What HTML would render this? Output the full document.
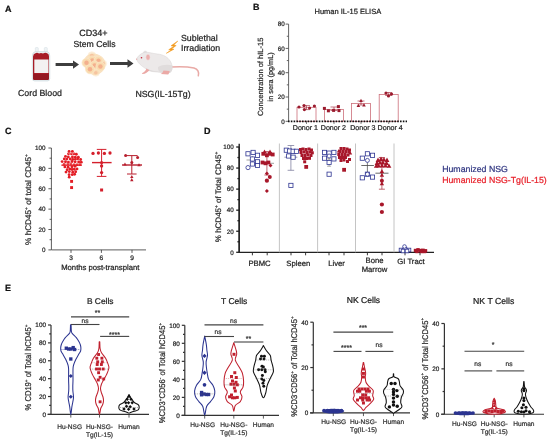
<!DOCTYPE html>
<html><head><meta charset="utf-8"><style>
html,body{margin:0;padding:0;background:#fff;width:550px;height:440px;overflow:hidden}
svg{display:block;font-family:"Liberation Sans", sans-serif;will-change:transform}
text{stroke:currentColor;stroke-width:0.22px;paint-order:stroke;text-rendering:geometricPrecision}
</style></head><body>
<svg width="550" height="440" viewBox="0 0 550 440">
<rect width="550" height="440" fill="#fff"/>
<text x="5.00" y="11.50" font-size="9" text-anchor="start" fill="#111" color="#111" font-weight="bold" >A</text>
<text x="253.00" y="10.00" font-size="9" text-anchor="start" fill="#111" color="#111" font-weight="bold" >B</text>
<text x="5.00" y="134.00" font-size="9" text-anchor="start" fill="#111" color="#111" font-weight="bold" >C</text>
<text x="204.00" y="134.00" font-size="9" text-anchor="start" fill="#111" color="#111" font-weight="bold" >D</text>
<text x="5.00" y="291.00" font-size="9" text-anchor="start" fill="#111" color="#111" font-weight="bold" >E</text>
<g>
<rect x="35.3" y="47.5" width="3" height="6" rx="0.8" fill="#eef3f5" stroke="#d3dde2" stroke-width="0.5"/>
<rect x="44.3" y="47.5" width="3" height="6" rx="0.8" fill="#eef3f5" stroke="#d3dde2" stroke-width="0.5"/>
<path d="M32.3 56 Q32.3 52 35.5 51.5 L47 51.5 Q49.8 52 49.8 56 L49.8 78.5 Q49.8 81 47.3 81 L34.8 81 Q32.3 81 32.3 78.5 Z" fill="#e9f0f2" stroke="#c9d6dc" stroke-width="0.6"/>
<path d="M33 56.5 Q33.5 53.5 35 53.5 Q37 52 39 53.5 Q41 52.5 43 53.5 Q45.5 52 47.5 53.5 Q49 54 49 56.5 L49 78 Q49 80 47 80 L35 80 Q33 80 33 78 Z" fill="#a71d27"/>
<rect x="33" y="74" width="16" height="6" rx="1.5" fill="#951922"/>
<rect x="34.3" y="59.5" width="14.2" height="13.5" fill="#f3f1f1"/>
</g>
<path d="M55.6 63.099999999999994 L73 63.099999999999994 L73 60.39999999999999 L79 64.6 L73 68.8 L73 66.1 L55.6 66.1 Z" fill="#3d3d3d"/>
<path d="M110 62.0 L127.5 62.0 L127.5 59.3 L133.5 63.5 L127.5 67.7 L127.5 65.0 L110 65.0 Z" fill="#3d3d3d"/>
<g>
<path d="M84 63 C84 57 88 53.5 93 53.5 C99 53.5 105.5 58 105.5 64 C105.5 70 100 75 95 75 C89 75 84 69 84 63 Z" fill="#f9e0bf"/>
<circle cx="91.9" cy="55.7" r="4.0" fill="#f9dcb0" stroke="#fbe7c9" stroke-width="0.7" opacity="0.55"/>
<circle cx="91.9" cy="55.7" r="2.0" fill="#f3ab8a" opacity="0.49500000000000005"/>
<circle cx="103.5" cy="63.5" r="3.2" fill="#f9dcb0" stroke="#fbe7c9" stroke-width="0.7" opacity="0.5"/>
<circle cx="103.5" cy="63.5" r="1.6" fill="#f3ab8a" opacity="0.45"/>
<circle cx="95.8" cy="72.7" r="3.6" fill="#f9dcb0" stroke="#fbe7c9" stroke-width="0.7" opacity="0.55"/>
<circle cx="95.8" cy="72.7" r="1.8" fill="#f3ab8a" opacity="0.49500000000000005"/>
<circle cx="92.3" cy="60.4" r="4.5" fill="#f9dcb0" stroke="#fbe7c9" stroke-width="0.7" opacity="1"/>
<circle cx="92.3" cy="60.4" r="2.25" fill="#f3ab8a" opacity="0.9"/>
<circle cx="98.5" cy="60.7" r="4.5" fill="#f9dcb0" stroke="#fbe7c9" stroke-width="0.7" opacity="1"/>
<circle cx="98.5" cy="60.7" r="2.25" fill="#f3ab8a" opacity="0.9"/>
<circle cx="86.5" cy="62.7" r="4.5" fill="#f9dcb0" stroke="#fbe7c9" stroke-width="0.7" opacity="1"/>
<circle cx="86.5" cy="62.7" r="2.25" fill="#f3ab8a" opacity="0.9"/>
<circle cx="94.6" cy="65.4" r="4.5" fill="#f9dcb0" stroke="#fbe7c9" stroke-width="0.7" opacity="1"/>
<circle cx="94.6" cy="65.4" r="2.25" fill="#f3ab8a" opacity="0.9"/>
<circle cx="100.4" cy="66.5" r="4.5" fill="#f9dcb0" stroke="#fbe7c9" stroke-width="0.7" opacity="1"/>
<circle cx="100.4" cy="66.5" r="2.25" fill="#f3ab8a" opacity="0.9"/>
<circle cx="90" cy="69.3" r="4.5" fill="#f9dcb0" stroke="#fbe7c9" stroke-width="0.7" opacity="1"/>
<circle cx="90" cy="69.3" r="2.25" fill="#f3ab8a" opacity="0.9"/>
</g>
<g>
<path d="M171.5 67 C180 66.4 188 66.7 194 68 C198 69.2 199.2 72 198.3 75.8" fill="none" stroke="#e9aaa6" stroke-width="1.5" stroke-linecap="round"/>
<circle cx="145.2" cy="52.6" r="1.7" fill="#e3e0e0" stroke="#d8d4d4" stroke-width="0.3"/>
<path d="M136.5 59.1 C137.5 56.5 140.5 53.5 144 52.5 C148 51.5 152 53.5 157.5 54 C163 54.5 168 57 170.5 61.5 C172.5 65 172.8 69.5 170.5 72.3 C168 73.5 164 73 160 72.3 L152 71.5 C149 71 145 68.5 142 66 C139.5 64.2 137 61.5 136.5 59.1 Z" fill="#ece9e9" stroke="#d5d1d1" stroke-width="0.45"/>
<path d="M158 67 C162 64.5 168 64 172.3 65.5 C172.7 68.5 172.3 70.8 170.5 72.3 C168 73.5 164 73 160 72.3 C158.5 71 157.8 69 158 67 Z" fill="#e0dcdc"/>
<path d="M146 68.3 C154 71.5 150 70 160 72.3 L152 71.5 C149 71 147 70 146 68.3 Z" fill="#dedada"/>
<ellipse cx="148" cy="57.2" rx="2.1" ry="3" fill="#ebb0ae" stroke="#f2e6e6" stroke-width="0.5"/>
<circle cx="141.5" cy="57.8" r="0.8" fill="#c42a3a"/>
<circle cx="136.7" cy="59.2" r="0.6" fill="#e6a0a0"/>
<path d="M146.5 68.5 C145.5 71 144 72.4 141.8 73.2 L142.6 74.1 C145.5 73.8 147.8 71.8 149.5 70.2 Z" fill="#eba9a6"/>
<path d="M163.5 70.5 C163 72.3 161.8 73.4 160.6 74 L168.2 74.4 C169.2 73.3 169.7 72.2 169.6 71 Z" fill="#eba9a6"/>
</g>
<path d="M177.8 41 L171 45.8 L173.8 46.2 L168.7 49.8 L171.2 50.1 L166.3 53.3 L174 49.2 L171.6 48.9 L176.2 45.5 L173.8 45.1 Z" fill="#f39a1e" stroke="#f39a1e" stroke-width="0.5" stroke-linejoin="round"/>
<text x="93.50" y="36.00" font-size="9" text-anchor="middle" fill="#222" color="#222" font-weight="normal" >CD34+</text>
<text x="94.50" y="47.00" font-size="8.7" text-anchor="middle" fill="#222" color="#222" font-weight="normal" >Stem Cells</text>
<text x="40.00" y="96.00" font-size="8.8" text-anchor="middle" fill="#222" color="#222" font-weight="normal" >Cord Blood</text>
<text x="163.00" y="97.00" font-size="8.8" text-anchor="middle" fill="#222" color="#222" font-weight="normal" >NSG(IL-15Tg)</text>
<text x="181.00" y="41.00" font-size="8.8" text-anchor="start" fill="#222" color="#222" font-weight="normal" >Sublethal</text>
<text x="181.00" y="51.00" font-size="8.8" text-anchor="start" fill="#222" color="#222" font-weight="normal" >Irradiation</text>
<line x1="288.60" y1="121.30" x2="288.60" y2="24.10" stroke="#555" stroke-width="0.9" />
<line x1="285.60" y1="121.30" x2="288.60" y2="121.30" stroke="#555" stroke-width="0.9" />
<text x="284.80" y="123.57" font-size="6.3" text-anchor="end" fill="#2a2a2a" color="#2a2a2a" font-weight="normal" >0</text>
<line x1="285.60" y1="97.00" x2="288.60" y2="97.00" stroke="#555" stroke-width="0.9" />
<text x="284.80" y="99.27" font-size="6.3" text-anchor="end" fill="#2a2a2a" color="#2a2a2a" font-weight="normal" >20</text>
<line x1="285.60" y1="72.70" x2="288.60" y2="72.70" stroke="#555" stroke-width="0.9" />
<text x="284.80" y="74.97" font-size="6.3" text-anchor="end" fill="#2a2a2a" color="#2a2a2a" font-weight="normal" >40</text>
<line x1="285.60" y1="48.40" x2="288.60" y2="48.40" stroke="#555" stroke-width="0.9" />
<text x="284.80" y="50.67" font-size="6.3" text-anchor="end" fill="#2a2a2a" color="#2a2a2a" font-weight="normal" >60</text>
<line x1="285.60" y1="24.10" x2="288.60" y2="24.10" stroke="#555" stroke-width="0.9" />
<text x="284.80" y="26.37" font-size="6.3" text-anchor="end" fill="#2a2a2a" color="#2a2a2a" font-weight="normal" >80</text>
<line x1="286.80" y1="109.15" x2="288.60" y2="109.15" stroke="#555" stroke-width="0.9" />
<line x1="286.80" y1="84.85" x2="288.60" y2="84.85" stroke="#555" stroke-width="0.9" />
<line x1="286.80" y1="60.55" x2="288.60" y2="60.55" stroke="#555" stroke-width="0.9" />
<line x1="286.80" y1="36.25" x2="288.60" y2="36.25" stroke="#555" stroke-width="0.9" />
<text x="314.50" y="14.00" font-size="7.5" text-anchor="start" fill="#222" color="#222" font-weight="normal" >Human IL-15 ELISA</text>
<text transform="translate(262.8,76.9) rotate(-90)" font-size="7.5" text-anchor="middle" fill="#2a2a2a" color="#2a2a2a">Concentration of hIL-15</text>
<text transform="translate(272.9,76.9) rotate(-90)" font-size="7.3" text-anchor="middle" fill="#2a2a2a" color="#2a2a2a">in sera (pg/mL)</text>
<rect x="297.0" y="107.33" width="19" height="13.97" fill="#fff" stroke="#cc6f7a" stroke-width="0.8"/>
<line x1="303.00" y1="105.60" x2="310.00" y2="105.60" stroke="#9a1a2c" stroke-width="0.6" />
<line x1="306.50" y1="105.60" x2="306.50" y2="109.60" stroke="#9a1a2c" stroke-width="0.6" />
<line x1="303.00" y1="109.60" x2="310.00" y2="109.60" stroke="#9a1a2c" stroke-width="0.6" />
<circle cx="299" cy="107" r="1.6" fill="#9b1b2e"/>
<circle cx="304" cy="105.6" r="1.6" fill="#9b1b2e"/>
<circle cx="304.4" cy="109.6" r="1.6" fill="#9b1b2e"/>
<circle cx="309.6" cy="108" r="1.6" fill="#9b1b2e"/>
<circle cx="314.4" cy="106" r="1.6" fill="#9b1b2e"/>
<line x1="306.50" y1="121.30" x2="306.50" y2="124.00" stroke="#333" stroke-width="0.6" />
<rect x="324.5" y="109.39" width="19" height="11.91" fill="#fff" stroke="#cc6f7a" stroke-width="0.8"/>
<line x1="330.50" y1="107.00" x2="337.50" y2="107.00" stroke="#9a1a2c" stroke-width="0.6" />
<line x1="334.00" y1="107.00" x2="334.00" y2="110.50" stroke="#9a1a2c" stroke-width="0.6" />
<line x1="330.50" y1="110.50" x2="337.50" y2="110.50" stroke="#9a1a2c" stroke-width="0.6" />
<rect x="322.9" y="106.9" width="3" height="3" fill="#9b1b2e"/>
<rect x="326.9" y="109.3" width="3" height="3" fill="#9b1b2e"/>
<rect x="332.1" y="108.9" width="3" height="3" fill="#9b1b2e"/>
<rect x="336.9" y="105.1" width="3" height="3" fill="#9b1b2e"/>
<rect x="337.5" y="109.1" width="3" height="3" fill="#9b1b2e"/>
<line x1="334.00" y1="121.30" x2="334.00" y2="124.00" stroke="#333" stroke-width="0.6" />
<rect x="351.5" y="103.56" width="19" height="17.74" fill="#fff" stroke="#cc6f7a" stroke-width="0.8"/>
<line x1="357.50" y1="101.00" x2="364.50" y2="101.00" stroke="#9a1a2c" stroke-width="0.6" />
<line x1="361.00" y1="101.00" x2="361.00" y2="105.00" stroke="#9a1a2c" stroke-width="0.6" />
<line x1="357.50" y1="105.00" x2="364.50" y2="105.00" stroke="#9a1a2c" stroke-width="0.6" />
<path d="M359.2 101.9 L362.8 101.9 L361 98.7 Z" fill="#9b1b2e"/>
<path d="M356.59999999999997 107.0 L360.2 107.0 L358.4 103.8 Z" fill="#9b1b2e"/>
<path d="M362.2 106.4 L365.8 106.4 L364 103.2 Z" fill="#9b1b2e"/>
<line x1="361.00" y1="121.30" x2="361.00" y2="124.00" stroke="#333" stroke-width="0.6" />
<rect x="379.2" y="94.57" width="19" height="26.73" fill="#fff" stroke="#cc6f7a" stroke-width="0.8"/>
<line x1="385.20" y1="92.50" x2="392.20" y2="92.50" stroke="#9a1a2c" stroke-width="0.6" />
<line x1="388.70" y1="92.50" x2="388.70" y2="95.50" stroke="#9a1a2c" stroke-width="0.6" />
<line x1="385.20" y1="95.50" x2="392.20" y2="95.50" stroke="#9a1a2c" stroke-width="0.6" />
<circle cx="386" cy="93" r="1.6" fill="#9b1b2e"/>
<circle cx="388.5" cy="96" r="1.6" fill="#9b1b2e"/>
<circle cx="391.5" cy="94" r="1.6" fill="#9b1b2e"/>
<line x1="388.70" y1="121.30" x2="388.70" y2="124.00" stroke="#333" stroke-width="0.6" />
<line x1="288.00" y1="121.30" x2="407.00" y2="121.30" stroke="#111" stroke-width="1.8" stroke-dasharray="1.6,1.2"/>
<text x="305.40" y="130.30" font-size="7.1" text-anchor="middle" fill="#222" color="#222" font-weight="normal" >Donor 1</text>
<text x="333.40" y="130.30" font-size="7.1" text-anchor="middle" fill="#222" color="#222" font-weight="normal" >Donor 2</text>
<text x="362.80" y="130.30" font-size="7.1" text-anchor="middle" fill="#222" color="#222" font-weight="normal" >Donor 3</text>
<text x="390.20" y="130.30" font-size="7.1" text-anchor="middle" fill="#222" color="#222" font-weight="normal" >Donor 4</text>
<line x1="51.40" y1="249.90" x2="51.40" y2="148.00" stroke="#333" stroke-width="0.8" />
<line x1="48.40" y1="249.90" x2="51.40" y2="249.90" stroke="#333" stroke-width="0.8" />
<text x="45.60" y="252.17" font-size="6.3" text-anchor="end" fill="#2a2a2a" color="#2a2a2a" font-weight="normal" >0</text>
<line x1="48.40" y1="229.52" x2="51.40" y2="229.52" stroke="#333" stroke-width="0.8" />
<text x="45.60" y="231.79" font-size="6.3" text-anchor="end" fill="#2a2a2a" color="#2a2a2a" font-weight="normal" >20</text>
<line x1="48.40" y1="209.14" x2="51.40" y2="209.14" stroke="#333" stroke-width="0.8" />
<text x="45.60" y="211.41" font-size="6.3" text-anchor="end" fill="#2a2a2a" color="#2a2a2a" font-weight="normal" >40</text>
<line x1="48.40" y1="188.76" x2="51.40" y2="188.76" stroke="#333" stroke-width="0.8" />
<text x="45.60" y="191.03" font-size="6.3" text-anchor="end" fill="#2a2a2a" color="#2a2a2a" font-weight="normal" >60</text>
<line x1="48.40" y1="168.38" x2="51.40" y2="168.38" stroke="#333" stroke-width="0.8" />
<text x="45.60" y="170.65" font-size="6.3" text-anchor="end" fill="#2a2a2a" color="#2a2a2a" font-weight="normal" >80</text>
<line x1="48.40" y1="148.00" x2="51.40" y2="148.00" stroke="#333" stroke-width="0.8" />
<text x="45.60" y="150.27" font-size="6.3" text-anchor="end" fill="#2a2a2a" color="#2a2a2a" font-weight="normal" >100</text>
<line x1="49.60" y1="239.71" x2="51.40" y2="239.71" stroke="#333" stroke-width="0.8" />
<line x1="49.60" y1="219.33" x2="51.40" y2="219.33" stroke="#333" stroke-width="0.8" />
<line x1="49.60" y1="198.95" x2="51.40" y2="198.95" stroke="#333" stroke-width="0.8" />
<line x1="49.60" y1="178.57" x2="51.40" y2="178.57" stroke="#333" stroke-width="0.8" />
<line x1="49.60" y1="158.19" x2="51.40" y2="158.19" stroke="#333" stroke-width="0.8" />
<line x1="51.60" y1="249.90" x2="146.00" y2="249.90" stroke="#333" stroke-width="0.8" />
<line x1="71.00" y1="249.90" x2="71.00" y2="252.90" stroke="#333" stroke-width="0.8" />
<text x="71.00" y="259.80" font-size="6.6" text-anchor="middle" fill="#222" color="#222" font-weight="normal" >3</text>
<line x1="101.40" y1="249.90" x2="101.40" y2="252.90" stroke="#333" stroke-width="0.8" />
<text x="101.40" y="259.80" font-size="6.6" text-anchor="middle" fill="#222" color="#222" font-weight="normal" >6</text>
<line x1="132.00" y1="249.90" x2="132.00" y2="252.90" stroke="#333" stroke-width="0.8" />
<text x="132.00" y="259.80" font-size="6.6" text-anchor="middle" fill="#222" color="#222" font-weight="normal" >9</text>
<text x="61.20" y="270.00" font-size="7.7" text-anchor="start" fill="#222" color="#222" font-weight="normal" >Months post-transplant</text>
<text transform="translate(30.8,199.5) rotate(-90) scale(1.0,1)" font-size="8.2" text-anchor="middle" fill="#2a2a2a" color="#2a2a2a" letter-spacing="0"><tspan dy="0.00">% hCD45</tspan><tspan font-size="4.92" dy="-3.12">+</tspan><tspan dy="3.12"> of total CD45</tspan><tspan font-size="4.92" dy="-3.12">+</tspan></text>
<circle cx="69.08" cy="151.45" r="1.42" fill="#e31d25"/>
<circle cx="72.37" cy="151.37" r="1.42" fill="#e31d25"/>
<circle cx="68.52" cy="153.86" r="1.42" fill="#e31d25"/>
<circle cx="71.36" cy="153.84" r="1.42" fill="#e31d25"/>
<circle cx="73.98" cy="153.87" r="1.42" fill="#e31d25"/>
<circle cx="76.34" cy="154.22" r="1.42" fill="#e31d25"/>
<circle cx="65.49" cy="156.42" r="1.42" fill="#e31d25"/>
<circle cx="68.31" cy="156.93" r="1.42" fill="#e31d25"/>
<circle cx="72.45" cy="156.88" r="1.42" fill="#e31d25"/>
<circle cx="75.31" cy="157.28" r="1.42" fill="#e31d25"/>
<circle cx="78.38" cy="157.16" r="1.42" fill="#e31d25"/>
<circle cx="64.27" cy="158.94" r="1.42" fill="#e31d25"/>
<circle cx="66.84" cy="159.11" r="1.42" fill="#e31d25"/>
<circle cx="70.28" cy="158.98" r="1.42" fill="#e31d25"/>
<circle cx="72.78" cy="159.44" r="1.42" fill="#e31d25"/>
<circle cx="75.31" cy="159.35" r="1.42" fill="#e31d25"/>
<circle cx="77.74" cy="158.86" r="1.42" fill="#e31d25"/>
<circle cx="80.62" cy="159.48" r="1.42" fill="#e31d25"/>
<circle cx="62.13" cy="161.61" r="1.42" fill="#e31d25"/>
<circle cx="65.50" cy="161.75" r="1.42" fill="#e31d25"/>
<circle cx="68.43" cy="162.09" r="1.42" fill="#e31d25"/>
<circle cx="72.05" cy="161.54" r="1.42" fill="#e31d25"/>
<circle cx="75.14" cy="161.83" r="1.42" fill="#e31d25"/>
<circle cx="78.66" cy="162.03" r="1.42" fill="#e31d25"/>
<circle cx="81.29" cy="162.28" r="1.42" fill="#e31d25"/>
<circle cx="64.10" cy="164.22" r="1.42" fill="#e31d25"/>
<circle cx="67.88" cy="163.95" r="1.42" fill="#e31d25"/>
<circle cx="70.76" cy="163.84" r="1.42" fill="#e31d25"/>
<circle cx="74.08" cy="164.56" r="1.42" fill="#e31d25"/>
<circle cx="77.13" cy="164.68" r="1.42" fill="#e31d25"/>
<circle cx="80.01" cy="164.50" r="1.42" fill="#e31d25"/>
<circle cx="64.86" cy="166.88" r="1.42" fill="#e31d25"/>
<circle cx="68.09" cy="167.14" r="1.42" fill="#e31d25"/>
<circle cx="71.94" cy="166.77" r="1.42" fill="#e31d25"/>
<circle cx="75.03" cy="166.36" r="1.42" fill="#e31d25"/>
<circle cx="67.15" cy="169.79" r="1.42" fill="#e31d25"/>
<circle cx="69.91" cy="169.08" r="1.42" fill="#e31d25"/>
<circle cx="72.06" cy="169.47" r="1.42" fill="#e31d25"/>
<circle cx="74.29" cy="169.26" r="1.42" fill="#e31d25"/>
<circle cx="77.02" cy="168.92" r="1.42" fill="#e31d25"/>
<circle cx="65.99" cy="172.07" r="1.42" fill="#e31d25"/>
<circle cx="69.28" cy="171.55" r="1.42" fill="#e31d25"/>
<circle cx="72.77" cy="172.17" r="1.42" fill="#e31d25"/>
<circle cx="75.68" cy="171.75" r="1.42" fill="#e31d25"/>
<circle cx="69.10" cy="174.68" r="1.42" fill="#e31d25"/>
<circle cx="72.27" cy="174.66" r="1.42" fill="#e31d25"/>
<circle cx="74.63" cy="174.22" r="1.42" fill="#e31d25"/>
<circle cx="69.21" cy="177.18" r="1.42" fill="#e31d25"/>
<rect x="70.15" y="179.95" width="2.90" height="2.90" fill="#e31d25"/>
<rect x="70.15" y="186.15" width="2.90" height="2.90" fill="#e31d25"/>
<line x1="61.40" y1="163.90" x2="81.90" y2="163.90" stroke="#fff" stroke-width="0.6" opacity="0.7"/>
<line x1="61.40" y1="165.20" x2="81.90" y2="165.20" stroke="#e31d25" stroke-width="1.3" />
<line x1="68.00" y1="153.30" x2="74.50" y2="153.30" stroke="#fff" stroke-width="0.5" opacity="0.6"/>
<line x1="92.00" y1="162.60" x2="111.60" y2="162.60" stroke="#d41f2c" stroke-width="1.4" />
<line x1="101.60" y1="149.40" x2="101.60" y2="176.40" stroke="#d41f2c" stroke-width="1.0" />
<line x1="96.80" y1="149.40" x2="106.40" y2="149.40" stroke="#d41f2c" stroke-width="1.0" />
<line x1="96.80" y1="176.40" x2="106.40" y2="176.40" stroke="#d41f2c" stroke-width="1.0" />
<circle cx="93.00" cy="153.40" r="1.65" fill="#d41f2c"/>
<circle cx="98.40" cy="153.00" r="1.65" fill="#d41f2c"/>
<circle cx="104.40" cy="153.40" r="1.65" fill="#d41f2c"/>
<circle cx="110.00" cy="153.00" r="1.65" fill="#d41f2c"/>
<circle cx="101.60" cy="162.60" r="1.65" fill="#d41f2c"/>
<circle cx="101.60" cy="166.00" r="1.65" fill="#d41f2c"/>
<circle cx="101.60" cy="172.60" r="1.65" fill="#d41f2c"/>
<rect x="100.10" y="188.50" width="3.00" height="3.00" fill="#d41f2c"/>
<line x1="122.00" y1="165.00" x2="142.00" y2="165.00" stroke="#b81f2e" stroke-width="1.4" />
<line x1="131.80" y1="155.60" x2="131.80" y2="174.00" stroke="#b81f2e" stroke-width="1.0" />
<line x1="126.00" y1="155.60" x2="137.60" y2="155.60" stroke="#b81f2e" stroke-width="1.0" />
<line x1="127.00" y1="174.00" x2="136.60" y2="174.00" stroke="#b81f2e" stroke-width="1.0" />
<circle cx="125.60" cy="155.40" r="1.5" fill="#b81f2e"/>
<circle cx="137.60" cy="157.40" r="1.5" fill="#b81f2e"/>
<circle cx="131.80" cy="162.40" r="1.5" fill="#b81f2e"/>
<path d="M123.30 165.56 L126.70 165.56 L125.00 162.50 Z" fill="#b81f2e"/>
<path d="M137.30 166.36 L140.70 166.36 L139.00 163.30 Z" fill="#b81f2e"/>
<path d="M130.10 177.96 L133.50 177.96 L131.80 174.90 Z" fill="#b81f2e"/>
<path d="M130.10 181.16 L133.50 181.16 L131.80 178.10 Z" fill="#b81f2e"/>
<line x1="239.20" y1="252.30" x2="239.20" y2="147.00" stroke="#222" stroke-width="1.3" />
<line x1="236.20" y1="252.30" x2="239.20" y2="252.30" stroke="#222" stroke-width="1.3" />
<text x="233.80" y="254.57" font-size="6.3" text-anchor="end" fill="#2a2a2a" color="#2a2a2a" font-weight="normal" >0</text>
<line x1="236.20" y1="231.24" x2="239.20" y2="231.24" stroke="#222" stroke-width="1.3" />
<text x="233.80" y="233.51" font-size="6.3" text-anchor="end" fill="#2a2a2a" color="#2a2a2a" font-weight="normal" >20</text>
<line x1="236.20" y1="210.18" x2="239.20" y2="210.18" stroke="#222" stroke-width="1.3" />
<text x="233.80" y="212.45" font-size="6.3" text-anchor="end" fill="#2a2a2a" color="#2a2a2a" font-weight="normal" >40</text>
<line x1="236.20" y1="189.12" x2="239.20" y2="189.12" stroke="#222" stroke-width="1.3" />
<text x="233.80" y="191.39" font-size="6.3" text-anchor="end" fill="#2a2a2a" color="#2a2a2a" font-weight="normal" >60</text>
<line x1="236.20" y1="168.06" x2="239.20" y2="168.06" stroke="#222" stroke-width="1.3" />
<text x="233.80" y="170.33" font-size="6.3" text-anchor="end" fill="#2a2a2a" color="#2a2a2a" font-weight="normal" >80</text>
<line x1="236.20" y1="147.00" x2="239.20" y2="147.00" stroke="#222" stroke-width="1.3" />
<text x="233.80" y="149.27" font-size="6.3" text-anchor="end" fill="#2a2a2a" color="#2a2a2a" font-weight="normal" >100</text>
<line x1="237.40" y1="241.77" x2="239.20" y2="241.77" stroke="#222" stroke-width="1.3" />
<line x1="237.40" y1="220.71" x2="239.20" y2="220.71" stroke="#222" stroke-width="1.3" />
<line x1="237.40" y1="199.65" x2="239.20" y2="199.65" stroke="#222" stroke-width="1.3" />
<line x1="237.40" y1="178.59" x2="239.20" y2="178.59" stroke="#222" stroke-width="1.3" />
<line x1="237.40" y1="157.53" x2="239.20" y2="157.53" stroke="#222" stroke-width="1.3" />
<line x1="238.50" y1="252.30" x2="434.00" y2="252.30" stroke="#222" stroke-width="1.3" />
<line x1="279.40" y1="143.50" x2="279.40" y2="252.30" stroke="#bdbdbd" stroke-width="0.9" />
<line x1="317.60" y1="143.50" x2="317.60" y2="252.30" stroke="#bdbdbd" stroke-width="0.9" />
<line x1="355.50" y1="143.50" x2="355.50" y2="252.30" stroke="#bdbdbd" stroke-width="0.9" />
<line x1="394.00" y1="143.50" x2="394.00" y2="252.30" stroke="#bdbdbd" stroke-width="0.9" />
<line x1="239.20" y1="143.80" x2="239.20" y2="252.30" stroke="#222" stroke-width="1.4" />
<line x1="252.40" y1="252.30" x2="252.40" y2="255.30" stroke="#222" stroke-width="0.9" />
<line x1="267.20" y1="252.30" x2="267.20" y2="255.30" stroke="#222" stroke-width="0.9" />
<line x1="291.00" y1="252.30" x2="291.00" y2="255.30" stroke="#222" stroke-width="0.9" />
<line x1="305.60" y1="252.30" x2="305.60" y2="255.30" stroke="#222" stroke-width="0.9" />
<line x1="329.00" y1="252.30" x2="329.00" y2="255.30" stroke="#222" stroke-width="0.9" />
<line x1="344.00" y1="252.30" x2="344.00" y2="255.30" stroke="#222" stroke-width="0.9" />
<line x1="367.40" y1="252.30" x2="367.40" y2="255.30" stroke="#222" stroke-width="0.9" />
<line x1="382.00" y1="252.30" x2="382.00" y2="255.30" stroke="#222" stroke-width="0.9" />
<line x1="405.00" y1="252.30" x2="405.00" y2="255.30" stroke="#222" stroke-width="0.9" />
<line x1="420.00" y1="252.30" x2="420.00" y2="255.30" stroke="#222" stroke-width="0.9" />
<text x="259.50" y="265.60" font-size="7.7" text-anchor="middle" fill="#222" color="#222" font-weight="normal" >PBMC</text>
<text x="298.30" y="265.60" font-size="7.7" text-anchor="middle" fill="#222" color="#222" font-weight="normal" >Spleen</text>
<text x="336.50" y="265.60" font-size="7.7" text-anchor="middle" fill="#222" color="#222" font-weight="normal" >Liver</text>
<text x="374.50" y="263.40" font-size="7.7" text-anchor="middle" fill="#222" color="#222" font-weight="normal" >Bone</text>
<text x="374.50" y="272.40" font-size="7.7" text-anchor="middle" fill="#222" color="#222" font-weight="normal" >Marrow</text>
<text x="411.00" y="263.60" font-size="7.7" text-anchor="middle" fill="#222" color="#222" font-weight="normal" >GI Tract</text>
<text transform="translate(221.4,197) rotate(-90) scale(1.0,1)" font-size="8.0" text-anchor="middle" fill="#2a2a2a" color="#2a2a2a" letter-spacing="0"><tspan dy="0.00">% hCD45</tspan><tspan font-size="4.80" dy="-3.04">+</tspan><tspan dy="3.04"> of Total CD45</tspan><tspan font-size="4.80" dy="-3.04">+</tspan></text>
<line x1="246.50" y1="160.00" x2="256.00" y2="160.00" stroke="#8a8a8a" stroke-width="0.8" />
<line x1="252.40" y1="156.00" x2="252.40" y2="165.00" stroke="#8a8a8a" stroke-width="0.7" />
<rect x="245.90" y="151.70" width="4.20" height="4.20" fill="#fff" stroke="#2e3592" stroke-width="0.8"/>
<rect x="251.00" y="150.30" width="4.20" height="4.20" fill="#fff" stroke="#2e3592" stroke-width="0.8"/>
<rect x="255.40" y="153.20" width="4.20" height="4.20" fill="#fff" stroke="#2e3592" stroke-width="0.8"/>
<rect x="250.30" y="156.90" width="4.20" height="4.20" fill="#fff" stroke="#2e3592" stroke-width="0.8"/>
<rect x="255.40" y="159.70" width="4.20" height="4.20" fill="#fff" stroke="#2e3592" stroke-width="0.8"/>
<rect x="250.30" y="161.90" width="4.20" height="4.20" fill="#fff" stroke="#2e3592" stroke-width="0.8"/>
<rect x="255.40" y="163.40" width="4.20" height="4.20" fill="#fff" stroke="#2e3592" stroke-width="0.8"/>
<circle cx="248.00" cy="167.60" r="2.1" fill="#fff" stroke="#2e3592" stroke-width="0.8"/>
<line x1="266.90" y1="151.60" x2="266.90" y2="175.00" stroke="#b0404e" stroke-width="0.8" />
<line x1="264.40" y1="175.00" x2="269.40" y2="175.00" stroke="#b0404e" stroke-width="0.8" />
<line x1="264.40" y1="151.60" x2="269.40" y2="151.60" stroke="#b0404e" stroke-width="0.8" />
<line x1="262.00" y1="163.30" x2="274.00" y2="163.30" stroke="#8a8a8a" stroke-width="0.8" />
<rect x="261.40" y="151.90" width="3.80" height="3.80" fill="#a8172a"/>
<rect x="265.00" y="153.40" width="3.80" height="3.80" fill="#a8172a"/>
<rect x="267.90" y="151.90" width="3.80" height="3.80" fill="#a8172a"/>
<rect x="270.80" y="152.60" width="3.80" height="3.80" fill="#a8172a"/>
<rect x="260.60" y="160.60" width="3.80" height="3.80" fill="#a8172a"/>
<rect x="263.60" y="161.40" width="3.80" height="3.80" fill="#a8172a"/>
<rect x="266.50" y="160.60" width="3.80" height="3.80" fill="#a8172a"/>
<path d="M262.30 153.56 L266.70 153.56 L264.50 149.60 Z" fill="#a8172a"/>
<path d="M267.80 153.56 L272.20 153.56 L270.00 149.60 Z" fill="#a8172a"/>
<path d="M270.50 163.50 L272.50 165.50 L270.50 167.50 L268.50 165.50 Z" fill="#a8172a"/>
<path d="M266.90 171.50 L268.90 173.50 L266.90 175.50 L264.90 173.50 Z" fill="#a8172a"/>
<path d="M266.90 189.00 L268.90 191.00 L266.90 193.00 L264.90 191.00 Z" fill="#a8172a"/>
<circle cx="269.80" cy="177.00" r="2.0" fill="#a8172a"/>
<circle cx="266.90" cy="180.70" r="2.1" fill="#a8172a"/>
<line x1="284.40" y1="157.20" x2="297.40" y2="157.20" stroke="#8080a0" stroke-width="0.8" />
<line x1="290.90" y1="145.50" x2="290.90" y2="170.30" stroke="#8080a0" stroke-width="0.8" />
<line x1="287.60" y1="145.50" x2="294.20" y2="145.50" stroke="#8080a0" stroke-width="0.8" />
<line x1="287.60" y1="170.30" x2="294.20" y2="170.30" stroke="#8080a0" stroke-width="0.8" />
<rect x="284.20" y="148.10" width="4.20" height="4.20" fill="#fff" stroke="#2e3592" stroke-width="0.8"/>
<rect x="287.40" y="148.90" width="4.20" height="4.20" fill="#fff" stroke="#2e3592" stroke-width="0.8"/>
<rect x="291.00" y="149.20" width="4.20" height="4.20" fill="#fff" stroke="#2e3592" stroke-width="0.8"/>
<rect x="294.30" y="149.20" width="4.20" height="4.20" fill="#fff" stroke="#2e3592" stroke-width="0.8"/>
<rect x="286.60" y="153.90" width="4.20" height="4.20" fill="#fff" stroke="#2e3592" stroke-width="0.8"/>
<rect x="291.00" y="155.10" width="4.20" height="4.20" fill="#fff" stroke="#2e3592" stroke-width="0.8"/>
<rect x="288.80" y="183.30" width="4.20" height="4.20" fill="#fff" stroke="#2e3592" stroke-width="0.8"/>
<rect x="299.00" y="148.00" width="3.00" height="3.00" fill="#a8172a"/>
<rect x="301.50" y="147.50" width="3.00" height="3.00" fill="#a8172a"/>
<rect x="304.50" y="148.00" width="3.00" height="3.00" fill="#a8172a"/>
<rect x="307.50" y="147.50" width="3.00" height="3.00" fill="#a8172a"/>
<rect x="310.00" y="148.50" width="3.00" height="3.00" fill="#a8172a"/>
<rect x="299.50" y="151.00" width="3.00" height="3.00" fill="#a8172a"/>
<rect x="302.50" y="150.50" width="3.00" height="3.00" fill="#a8172a"/>
<rect x="305.50" y="151.00" width="3.00" height="3.00" fill="#a8172a"/>
<rect x="308.50" y="150.50" width="3.00" height="3.00" fill="#a8172a"/>
<rect x="310.80" y="151.30" width="3.00" height="3.00" fill="#a8172a"/>
<rect x="300.50" y="154.00" width="3.00" height="3.00" fill="#a8172a"/>
<rect x="303.50" y="154.00" width="3.00" height="3.00" fill="#a8172a"/>
<rect x="306.50" y="153.50" width="3.00" height="3.00" fill="#a8172a"/>
<rect x="309.50" y="154.00" width="3.00" height="3.00" fill="#a8172a"/>
<rect x="302.00" y="157.00" width="3.00" height="3.00" fill="#a8172a"/>
<rect x="305.00" y="157.00" width="3.00" height="3.00" fill="#a8172a"/>
<rect x="308.00" y="156.80" width="3.00" height="3.00" fill="#a8172a"/>
<rect x="303.20" y="160.30" width="3.00" height="3.00" fill="#a8172a"/>
<rect x="304.30" y="165.00" width="3.80" height="3.80" fill="#a8172a"/>
<line x1="326.10" y1="158.90" x2="332.10" y2="158.90" stroke="#8a8a8a" stroke-width="0.8" />
<line x1="327.10" y1="166.20" x2="331.10" y2="166.20" stroke="#8a8a8a" stroke-width="0.7" />
<line x1="329.10" y1="153.00" x2="329.10" y2="166.20" stroke="#8a8a8a" stroke-width="0.7" />
<rect x="322.40" y="150.30" width="4.20" height="4.20" fill="#fff" stroke="#2e3592" stroke-width="0.8"/>
<rect x="327.00" y="151.00" width="4.20" height="4.20" fill="#fff" stroke="#2e3592" stroke-width="0.8"/>
<rect x="331.80" y="150.30" width="4.20" height="4.20" fill="#fff" stroke="#2e3592" stroke-width="0.8"/>
<rect x="322.40" y="156.10" width="4.20" height="4.20" fill="#fff" stroke="#2e3592" stroke-width="0.8"/>
<rect x="331.80" y="156.80" width="4.20" height="4.20" fill="#fff" stroke="#2e3592" stroke-width="0.8"/>
<rect x="327.00" y="160.40" width="4.20" height="4.20" fill="#fff" stroke="#2e3592" stroke-width="0.8"/>
<rect x="327.00" y="172.10" width="4.20" height="4.20" fill="#fff" stroke="#2e3592" stroke-width="0.8"/>
<circle cx="329.10" cy="156.00" r="2.0" fill="#fff" stroke="#2e3592" stroke-width="0.8"/>
<rect x="339.50" y="147.00" width="3.00" height="3.00" fill="#a8172a"/>
<rect x="342.50" y="147.00" width="3.00" height="3.00" fill="#a8172a"/>
<rect x="345.50" y="147.50" width="3.00" height="3.00" fill="#a8172a"/>
<rect x="348.00" y="148.50" width="3.00" height="3.00" fill="#a8172a"/>
<rect x="338.50" y="150.00" width="3.00" height="3.00" fill="#a8172a"/>
<rect x="341.50" y="150.00" width="3.00" height="3.00" fill="#a8172a"/>
<rect x="344.50" y="150.00" width="3.00" height="3.00" fill="#a8172a"/>
<rect x="347.50" y="150.50" width="3.00" height="3.00" fill="#a8172a"/>
<rect x="337.30" y="153.00" width="3.00" height="3.00" fill="#a8172a"/>
<rect x="340.50" y="153.00" width="3.00" height="3.00" fill="#a8172a"/>
<rect x="343.50" y="153.00" width="3.00" height="3.00" fill="#a8172a"/>
<rect x="346.50" y="153.50" width="3.00" height="3.00" fill="#a8172a"/>
<rect x="338.00" y="156.00" width="3.00" height="3.00" fill="#a8172a"/>
<rect x="341.00" y="156.00" width="3.00" height="3.00" fill="#a8172a"/>
<rect x="344.00" y="156.00" width="3.00" height="3.00" fill="#a8172a"/>
<rect x="339.50" y="159.00" width="3.00" height="3.00" fill="#a8172a"/>
<rect x="342.50" y="158.50" width="3.00" height="3.00" fill="#a8172a"/>
<rect x="346.00" y="160.00" width="3.00" height="3.00" fill="#a8172a"/>
<rect x="348.00" y="158.00" width="3.00" height="3.00" fill="#a8172a"/>
<path d="M336.80 152.60 L340.80 152.60 L338.80 149.00 Z" fill="#a8172a"/>
<path d="M348.20 154.60 L352.20 154.60 L350.20 151.00 Z" fill="#a8172a"/>
<rect x="342.20" y="167.90" width="3.80" height="3.80" fill="#a8172a"/>
<line x1="361.30" y1="165.50" x2="373.90" y2="165.50" stroke="#444" stroke-width="0.8" />
<line x1="367.40" y1="160.40" x2="367.40" y2="174.20" stroke="#444" stroke-width="0.7" />
<rect x="360.20" y="156.10" width="4.20" height="4.20" fill="#fff" stroke="#2e3592" stroke-width="0.8"/>
<rect x="365.30" y="151.70" width="4.20" height="4.20" fill="#fff" stroke="#2e3592" stroke-width="0.8"/>
<rect x="370.40" y="153.20" width="4.20" height="4.20" fill="#fff" stroke="#2e3592" stroke-width="0.8"/>
<rect x="360.20" y="175.70" width="4.20" height="4.20" fill="#fff" stroke="#2e3592" stroke-width="0.8"/>
<rect x="365.30" y="172.10" width="4.20" height="4.20" fill="#fff" stroke="#2e3592" stroke-width="0.8"/>
<rect x="370.40" y="175.00" width="4.20" height="4.20" fill="#fff" stroke="#2e3592" stroke-width="0.8"/>
<circle cx="367.40" cy="160.40" r="2.0" fill="#fff" stroke="#2e3592" stroke-width="0.8"/>
<circle cx="367.40" cy="174.20" r="2.0" fill="#fff" stroke="#2e3592" stroke-width="0.8"/>
<line x1="375.40" y1="173.20" x2="388.50" y2="173.20" stroke="#444" stroke-width="0.8" />
<line x1="381.90" y1="157.50" x2="381.90" y2="189.20" stroke="#b0404e" stroke-width="0.8" />
<line x1="378.90" y1="189.20" x2="384.90" y2="189.20" stroke="#b0404e" stroke-width="0.8" />
<line x1="378.90" y1="157.50" x2="384.90" y2="157.50" stroke="#b0404e" stroke-width="0.8" />
<path d="M375.60 161.92 L380.40 161.92 L378.00 157.60 Z" fill="#a8172a"/>
<path d="M378.60 160.92 L383.40 160.92 L381.00 156.60 Z" fill="#a8172a"/>
<path d="M381.60 161.42 L386.40 161.42 L384.00 157.10 Z" fill="#a8172a"/>
<path d="M384.60 161.92 L389.40 161.92 L387.00 157.60 Z" fill="#a8172a"/>
<path d="M374.60 164.92 L379.40 164.92 L377.00 160.60 Z" fill="#a8172a"/>
<path d="M377.60 164.42 L382.40 164.42 L380.00 160.10 Z" fill="#a8172a"/>
<path d="M380.60 164.42 L385.40 164.42 L383.00 160.10 Z" fill="#a8172a"/>
<path d="M384.10 164.92 L388.90 164.92 L386.50 160.60 Z" fill="#a8172a"/>
<path d="M376.10 167.42 L380.90 167.42 L378.50 163.10 Z" fill="#a8172a"/>
<path d="M379.60 167.42 L384.40 167.42 L382.00 163.10 Z" fill="#a8172a"/>
<path d="M383.10 167.42 L387.90 167.42 L385.50 163.10 Z" fill="#a8172a"/>
<path d="M386.60 167.72 L391.40 167.72 L389.00 163.40 Z" fill="#a8172a"/>
<path d="M373.90 167.72 L378.70 167.72 L376.30 163.40 Z" fill="#a8172a"/>
<path d="M379.70 173.06 L384.10 173.06 L381.90 169.10 Z" fill="#a8172a"/>
<path d="M379.70 176.66 L384.10 176.66 L381.90 172.70 Z" fill="#a8172a"/>
<path d="M379.70 185.36 L384.10 185.36 L381.90 181.40 Z" fill="#a8172a"/>
<circle cx="381.90" cy="180.70" r="2.0" fill="#a8172a"/>
<circle cx="381.90" cy="204.50" r="2.1" fill="#a8172a"/>
<circle cx="381.90" cy="212.00" r="2.1" fill="#a8172a"/>
<rect x="399.20" y="248.20" width="3.60" height="3.60" fill="#fff" stroke="#2e3592" stroke-width="0.8"/>
<rect x="403.20" y="247.20" width="3.60" height="3.60" fill="#fff" stroke="#2e3592" stroke-width="0.8"/>
<rect x="407.20" y="248.20" width="3.60" height="3.60" fill="#fff" stroke="#2e3592" stroke-width="0.8"/>
<rect x="401.20" y="249.20" width="3.60" height="3.60" fill="#fff" stroke="#2e3592" stroke-width="0.8"/>
<rect x="405.20" y="249.20" width="3.60" height="3.60" fill="#fff" stroke="#2e3592" stroke-width="0.8"/>
<circle cx="404.50" cy="246.50" r="1.8" fill="#fff" stroke="#2e3592" stroke-width="0.8"/>
<rect x="413.80" y="248.80" width="3.40" height="3.40" fill="#a8172a"/>
<rect x="416.30" y="248.10" width="3.40" height="3.40" fill="#a8172a"/>
<rect x="418.80" y="248.80" width="3.40" height="3.40" fill="#a8172a"/>
<rect x="421.30" y="248.60" width="3.40" height="3.40" fill="#a8172a"/>
<rect x="423.80" y="249.10" width="3.40" height="3.40" fill="#a8172a"/>
<rect x="415.30" y="249.80" width="3.40" height="3.40" fill="#a8172a"/>
<rect x="419.80" y="249.80" width="3.40" height="3.40" fill="#a8172a"/>
<rect x="422.80" y="249.80" width="3.40" height="3.40" fill="#a8172a"/>
<text x="442.20" y="172.40" font-size="8.75" text-anchor="start" fill="#2f3580" color="#2f3580" font-weight="normal" >Humanized NSG</text>
<text x="442.20" y="182.60" font-size="8.75" text-anchor="start" fill="#e8202a" color="#e8202a" font-weight="normal" >Humanized NSG-Tg(IL-15)</text>
<line x1="51.00" y1="414.40" x2="51.00" y2="325.00" stroke="#333" stroke-width="1.2" />
<line x1="48.00" y1="414.40" x2="51.00" y2="414.40" stroke="#333" stroke-width="1.2" />
<text x="46.00" y="416.70" font-size="6.4" text-anchor="end" fill="#2a2a2a" color="#2a2a2a" font-weight="normal" >0</text>
<line x1="48.00" y1="396.52" x2="51.00" y2="396.52" stroke="#333" stroke-width="1.2" />
<text x="46.00" y="398.82" font-size="6.4" text-anchor="end" fill="#2a2a2a" color="#2a2a2a" font-weight="normal" >20</text>
<line x1="48.00" y1="378.64" x2="51.00" y2="378.64" stroke="#333" stroke-width="1.2" />
<text x="46.00" y="380.94" font-size="6.4" text-anchor="end" fill="#2a2a2a" color="#2a2a2a" font-weight="normal" >40</text>
<line x1="48.00" y1="360.76" x2="51.00" y2="360.76" stroke="#333" stroke-width="1.2" />
<text x="46.00" y="363.06" font-size="6.4" text-anchor="end" fill="#2a2a2a" color="#2a2a2a" font-weight="normal" >60</text>
<line x1="48.00" y1="342.88" x2="51.00" y2="342.88" stroke="#333" stroke-width="1.2" />
<text x="46.00" y="345.18" font-size="6.4" text-anchor="end" fill="#2a2a2a" color="#2a2a2a" font-weight="normal" >80</text>
<line x1="48.00" y1="325.00" x2="51.00" y2="325.00" stroke="#333" stroke-width="1.2" />
<text x="46.00" y="327.30" font-size="6.4" text-anchor="end" fill="#2a2a2a" color="#2a2a2a" font-weight="normal" >100</text>
<line x1="49.20" y1="405.46" x2="51.00" y2="405.46" stroke="#333" stroke-width="1.2" />
<line x1="49.20" y1="387.58" x2="51.00" y2="387.58" stroke="#333" stroke-width="1.2" />
<line x1="49.20" y1="369.70" x2="51.00" y2="369.70" stroke="#333" stroke-width="1.2" />
<line x1="49.20" y1="351.82" x2="51.00" y2="351.82" stroke="#333" stroke-width="1.2" />
<line x1="49.20" y1="333.94" x2="51.00" y2="333.94" stroke="#333" stroke-width="1.2" />
<line x1="47.50" y1="414.40" x2="149.00" y2="414.40" stroke="#333" stroke-width="1.1" />
<text x="100.20" y="303.60" font-size="8.4" text-anchor="middle" fill="#1a1a1a" color="#1a1a1a" font-weight="normal" >B Cells</text>
<text transform="translate(31.2,367.5) rotate(-90) scale(0.895,1)" font-size="8.5" text-anchor="middle" fill="#2a2a2a" color="#2a2a2a" letter-spacing="0"><tspan dy="0.00">% CD19</tspan><tspan font-size="5.10" dy="-3.23">+</tspan><tspan dy="3.23"> of Total hCD45</tspan><tspan font-size="5.10" dy="-3.23">+</tspan></text>
<line x1="70.80" y1="414.40" x2="70.80" y2="417.60" stroke="#333" stroke-width="0.8" />
<line x1="99.50" y1="414.40" x2="99.50" y2="417.60" stroke="#333" stroke-width="0.8" />
<line x1="129.00" y1="414.40" x2="129.00" y2="417.60" stroke="#333" stroke-width="0.8" />
<path d="M71.10 324.80 C71.15 325.92 71.18 330.03 71.40 331.50 C71.62 332.97 71.58 332.57 72.40 333.60 C73.22 334.63 75.20 336.33 76.30 337.70 C77.40 339.07 78.32 340.58 79.00 341.80 C79.68 343.02 80.08 343.97 80.40 345.00 C80.72 346.03 80.87 347.00 80.90 348.00 C80.93 349.00 80.95 349.98 80.60 351.00 C80.25 352.02 79.60 352.67 78.80 354.10 C78.00 355.53 76.67 357.78 75.80 359.60 C74.93 361.42 74.07 363.42 73.60 365.00 C73.13 366.58 73.10 366.60 73.00 369.10 C72.90 371.60 73.03 377.18 73.00 380.00 C72.97 382.82 72.82 384.17 72.80 386.00 C72.78 387.83 72.78 389.12 72.90 391.00 C73.02 392.88 73.52 395.47 73.50 397.30 C73.48 399.13 73.08 400.33 72.80 402.00 C72.52 403.67 72.13 405.22 71.80 407.30 C71.47 409.38 71.13 414.50 70.80 414.50 C70.47 414.50 70.13 409.38 69.80 407.30 C69.47 405.22 69.08 403.67 68.80 402.00 C68.52 400.33 68.12 399.13 68.10 397.30 C68.08 395.47 68.58 392.88 68.70 391.00 C68.82 389.12 68.82 387.83 68.80 386.00 C68.78 384.17 68.63 382.82 68.60 380.00 C68.57 377.18 68.70 371.60 68.60 369.10 C68.50 366.60 68.47 366.58 68.00 365.00 C67.53 363.42 66.67 361.42 65.80 359.60 C64.93 357.78 63.60 355.53 62.80 354.10 C62.00 352.67 61.35 352.02 61.00 351.00 C60.65 349.98 60.67 349.00 60.70 348.00 C60.73 347.00 60.88 346.03 61.20 345.00 C61.52 343.97 61.92 343.02 62.60 341.80 C63.28 340.58 64.20 339.07 65.30 337.70 C66.40 336.33 68.38 334.63 69.20 333.60 C70.02 332.57 69.98 332.97 70.20 331.50 C70.42 330.03 70.45 325.92 70.50 324.80 Z" fill="#fff" stroke="#2b3490" stroke-width="1.05" stroke-linejoin="round"/>
<path d="M99.80 341.80 C99.85 342.92 99.82 346.68 100.10 348.50 C100.38 350.32 100.58 351.08 101.50 352.70 C102.42 354.32 104.53 356.37 105.60 358.20 C106.67 360.03 107.35 362.07 107.90 363.70 C108.45 365.33 109.13 366.18 108.90 368.00 C108.67 369.82 107.40 372.60 106.50 374.60 C105.60 376.60 104.33 378.43 103.50 380.00 C102.67 381.57 102.00 382.58 101.50 384.00 C101.00 385.42 100.50 387.00 100.50 388.50 C100.50 390.00 101.08 391.58 101.50 393.00 C101.92 394.42 102.67 395.72 103.00 397.00 C103.33 398.28 103.55 399.45 103.50 400.70 C103.45 401.95 103.17 403.20 102.70 404.50 C102.23 405.80 101.23 406.83 100.70 408.50 C100.17 410.17 99.90 414.50 99.50 414.50 C99.10 414.50 98.83 410.17 98.30 408.50 C97.77 406.83 96.77 405.80 96.30 404.50 C95.83 403.20 95.55 401.95 95.50 400.70 C95.45 399.45 95.67 398.28 96.00 397.00 C96.33 395.72 97.08 394.42 97.50 393.00 C97.92 391.58 98.50 390.00 98.50 388.50 C98.50 387.00 98.00 385.42 97.50 384.00 C97.00 382.58 96.33 381.57 95.50 380.00 C94.67 378.43 93.40 376.60 92.50 374.60 C91.60 372.60 90.33 369.82 90.10 368.00 C89.87 366.18 90.55 365.33 91.10 363.70 C91.65 362.07 92.33 360.03 93.40 358.20 C94.47 356.37 96.58 354.32 97.50 352.70 C98.42 351.08 98.62 350.32 98.90 348.50 C99.18 346.68 99.15 342.92 99.20 341.80 Z" fill="#fff" stroke="#c0202e" stroke-width="1.05" stroke-linejoin="round"/>
<path d="M129.00 394.50 C129.25 395.00 129.83 396.43 130.50 397.50 C131.17 398.57 132.25 399.98 133.00 400.90 C133.75 401.82 134.13 402.38 135.00 403.00 C135.87 403.62 137.50 403.90 138.20 404.60 C138.90 405.30 139.20 406.33 139.20 407.20 C139.20 408.07 139.07 409.12 138.20 409.80 C137.33 410.48 135.28 410.85 134.00 411.30 C132.72 411.75 131.33 412.18 130.50 412.50 C129.67 412.82 129.50 413.20 129.00 413.20 C128.50 413.20 128.33 412.82 127.50 412.50 C126.67 412.18 125.28 411.75 124.00 411.30 C122.72 410.85 120.67 410.48 119.80 409.80 C118.93 409.12 118.80 408.07 118.80 407.20 C118.80 406.33 119.10 405.30 119.80 404.60 C120.50 403.90 122.13 403.62 123.00 403.00 C123.87 402.38 124.25 401.82 125.00 400.90 C125.75 399.98 126.83 398.57 127.50 397.50 C128.17 396.43 128.75 395.00 129.00 394.50 Z" fill="#fff" stroke="#111" stroke-width="1.05" stroke-linejoin="round"/>
<line x1="61.30" y1="349.50" x2="80.30" y2="349.50" stroke="#2b3490" stroke-width="0.6" stroke-dasharray="1.2,0.9" opacity="0.8"/>
<rect x="64.63" y="346.53" width="3.34" height="3.34" fill="#2b3490"/>
<rect x="66.93" y="347.33" width="3.34" height="3.34" fill="#2b3490"/>
<rect x="69.33" y="347.33" width="3.34" height="3.34" fill="#2b3490"/>
<rect x="71.53" y="345.93" width="3.34" height="3.34" fill="#2b3490"/>
<rect x="72.93" y="347.83" width="3.34" height="3.34" fill="#2b3490"/>
<rect x="69.13" y="357.33" width="3.34" height="3.34" fill="#2b3490"/>
<path d="M70.80 373.93 L72.87 376.00 L70.80 378.07 L68.73 376.00 Z" fill="#2b3490"/>
<path d="M70.80 394.63 L72.87 396.70 L70.80 398.77 L68.73 396.70 Z" fill="#2b3490"/>
<line x1="91.50" y1="362.70" x2="107.50" y2="362.70" stroke="#c0202e" stroke-width="0.6" stroke-dasharray="1.2,0.9" opacity="0.5"/>
<line x1="90.00" y1="369.10" x2="109.00" y2="369.10" stroke="#555" stroke-width="0.6" stroke-dasharray="1.2,0.9" opacity="0.7"/>
<line x1="94.50" y1="379.00" x2="104.50" y2="379.00" stroke="#c0202e" stroke-width="0.6" stroke-dasharray="1.2,0.9" opacity="0.5"/>
<rect x="97.16" y="353.06" width="2.88" height="2.88" fill="#c0202e"/>
<rect x="95.36" y="356.76" width="2.88" height="2.88" fill="#c0202e"/>
<rect x="100.46" y="356.76" width="2.88" height="2.88" fill="#c0202e"/>
<rect x="96.26" y="360.36" width="2.88" height="2.88" fill="#c0202e"/>
<rect x="100.86" y="360.36" width="2.88" height="2.88" fill="#c0202e"/>
<rect x="95.76" y="363.06" width="2.88" height="2.88" fill="#c0202e"/>
<rect x="99.96" y="363.06" width="2.88" height="2.88" fill="#c0202e"/>
<rect x="95.06" y="367.56" width="2.88" height="2.88" fill="#c0202e"/>
<rect x="98.06" y="367.56" width="2.88" height="2.88" fill="#c0202e"/>
<rect x="101.76" y="367.56" width="2.88" height="2.88" fill="#c0202e"/>
<rect x="97.16" y="371.26" width="2.88" height="2.88" fill="#c0202e"/>
<rect x="98.66" y="375.86" width="2.88" height="2.88" fill="#c0202e"/>
<rect x="96.86" y="378.56" width="2.88" height="2.88" fill="#c0202e"/>
<rect x="102.26" y="377.56" width="2.88" height="2.88" fill="#c0202e"/>
<rect x="98.66" y="400.36" width="2.88" height="2.88" fill="#c0202e"/>
<path d="M129.00 394.78 L130.72 396.50 L129.00 398.22 L127.28 396.50 Z" fill="#111"/>
<path d="M127.20 397.48 L128.92 399.20 L127.20 400.92 L125.48 399.20 Z" fill="#111"/>
<path d="M131.00 397.48 L132.72 399.20 L131.00 400.92 L129.28 399.20 Z" fill="#111"/>
<path d="M125.80 400.98 L127.52 402.70 L125.80 404.42 L124.08 402.70 Z" fill="#111"/>
<path d="M128.50 400.98 L130.22 402.70 L128.50 404.42 L126.78 402.70 Z" fill="#111"/>
<path d="M132.20 400.98 L133.92 402.70 L132.20 404.42 L130.48 402.70 Z" fill="#111"/>
<path d="M126.50 404.58 L128.22 406.30 L126.50 408.02 L124.78 406.30 Z" fill="#111"/>
<path d="M130.20 405.08 L131.92 406.80 L130.20 408.52 L128.48 406.80 Z" fill="#111"/>
<path d="M128.60 407.48 L130.32 409.20 L128.60 410.92 L126.88 409.20 Z" fill="#111"/>
<path d="M124.00 407.28 L125.72 409.00 L124.00 410.72 L122.28 409.00 Z" fill="#111"/>
<path d="M134.00 407.28 L135.72 409.00 L134.00 410.72 L132.28 409.00 Z" fill="#111"/>
<line x1="120.00" y1="407.30" x2="138.00" y2="407.30" stroke="#333" stroke-width="0.6" stroke-dasharray="1.2,0.9" opacity="0.8"/>
<line x1="71.00" y1="316.90" x2="129.20" y2="316.90" stroke="#444" stroke-width="1.1" />
<text x="97.50" y="315.40" font-size="7" text-anchor="middle" fill="#333" color="#333" font-weight="normal" >**</text>
<line x1="71.00" y1="324.50" x2="99.50" y2="324.50" stroke="#444" stroke-width="1.1" />
<text x="85.00" y="322.70" font-size="6.6" text-anchor="middle" fill="#333" color="#333" font-weight="normal" >ns</text>
<line x1="100.10" y1="336.40" x2="129.20" y2="336.40" stroke="#444" stroke-width="1.1" />
<text x="114.50" y="336.50" font-size="7" text-anchor="middle" fill="#333" color="#333" font-weight="normal" >****</text>
<text x="69.60" y="428.70" font-size="6.6" text-anchor="middle" fill="#333" color="#333" font-weight="normal" >Hu-NSG</text>
<text x="99.50" y="428.70" font-size="6.6" text-anchor="middle" fill="#333" color="#333" font-weight="normal" >Hu-NSG-</text>
<text x="99.50" y="437.30" font-size="6.6" text-anchor="middle" fill="#333" color="#333" font-weight="normal" >Tg(IL-15)</text>
<text x="129.00" y="428.70" font-size="6.6" text-anchor="middle" fill="#333" color="#333" font-weight="normal" >Human</text>
<line x1="184.80" y1="415.40" x2="184.80" y2="325.30" stroke="#333" stroke-width="1.2" />
<line x1="181.80" y1="415.40" x2="184.80" y2="415.40" stroke="#333" stroke-width="1.2" />
<text x="179.80" y="417.70" font-size="6.4" text-anchor="end" fill="#2a2a2a" color="#2a2a2a" font-weight="normal" >0</text>
<line x1="181.80" y1="397.38" x2="184.80" y2="397.38" stroke="#333" stroke-width="1.2" />
<text x="179.80" y="399.68" font-size="6.4" text-anchor="end" fill="#2a2a2a" color="#2a2a2a" font-weight="normal" >20</text>
<line x1="181.80" y1="379.36" x2="184.80" y2="379.36" stroke="#333" stroke-width="1.2" />
<text x="179.80" y="381.66" font-size="6.4" text-anchor="end" fill="#2a2a2a" color="#2a2a2a" font-weight="normal" >40</text>
<line x1="181.80" y1="361.34" x2="184.80" y2="361.34" stroke="#333" stroke-width="1.2" />
<text x="179.80" y="363.64" font-size="6.4" text-anchor="end" fill="#2a2a2a" color="#2a2a2a" font-weight="normal" >60</text>
<line x1="181.80" y1="343.32" x2="184.80" y2="343.32" stroke="#333" stroke-width="1.2" />
<text x="179.80" y="345.62" font-size="6.4" text-anchor="end" fill="#2a2a2a" color="#2a2a2a" font-weight="normal" >80</text>
<line x1="181.80" y1="325.30" x2="184.80" y2="325.30" stroke="#333" stroke-width="1.2" />
<text x="179.80" y="327.60" font-size="6.4" text-anchor="end" fill="#2a2a2a" color="#2a2a2a" font-weight="normal" >100</text>
<line x1="183.00" y1="406.39" x2="184.80" y2="406.39" stroke="#333" stroke-width="1.2" />
<line x1="183.00" y1="388.37" x2="184.80" y2="388.37" stroke="#333" stroke-width="1.2" />
<line x1="183.00" y1="370.35" x2="184.80" y2="370.35" stroke="#333" stroke-width="1.2" />
<line x1="183.00" y1="352.33" x2="184.80" y2="352.33" stroke="#333" stroke-width="1.2" />
<line x1="183.00" y1="334.31" x2="184.80" y2="334.31" stroke="#333" stroke-width="1.2" />
<line x1="181.50" y1="415.40" x2="279.00" y2="415.40" stroke="#333" stroke-width="1.1" />
<text x="234.20" y="303.80" font-size="8.5" text-anchor="middle" fill="#1a1a1a" color="#1a1a1a" font-weight="normal" >T Cells</text>
<text transform="translate(165.2,373) rotate(-90) scale(0.915,1)" font-size="8.3" text-anchor="middle" fill="#2a2a2a" color="#2a2a2a" letter-spacing="0"><tspan dy="0.00">%CD3</tspan><tspan font-size="4.98" dy="-3.15">+</tspan><tspan dy="3.15">CD56</tspan><tspan font-size="4.98" dy="-3.15">-</tspan><tspan dy="3.15"> of Total hCD45</tspan><tspan font-size="4.98" dy="-3.15">+</tspan></text>
<line x1="204.70" y1="415.40" x2="204.70" y2="418.60" stroke="#333" stroke-width="0.8" />
<line x1="233.80" y1="415.40" x2="233.80" y2="418.60" stroke="#333" stroke-width="0.8" />
<line x1="263.40" y1="415.40" x2="263.40" y2="418.60" stroke="#333" stroke-width="0.8" />
<path d="M204.70 336.10 C204.97 337.47 205.93 341.92 206.30 344.30 C206.67 346.68 206.70 348.53 206.90 350.40 C207.10 352.27 207.63 353.57 207.50 355.50 C207.37 357.43 206.27 359.92 206.10 362.00 C205.93 364.08 206.32 366.22 206.50 368.00 C206.68 369.78 206.85 370.80 207.20 372.70 C207.55 374.60 207.65 377.32 208.60 379.40 C209.55 381.48 211.87 383.27 212.90 385.20 C213.93 387.13 214.63 389.07 214.80 391.00 C214.97 392.93 214.62 395.03 213.90 396.80 C213.18 398.57 211.72 399.98 210.50 401.60 C209.28 403.22 207.57 404.27 206.60 406.50 C205.63 408.73 205.33 415.00 204.70 415.00 C204.07 415.00 203.77 408.73 202.80 406.50 C201.83 404.27 200.12 403.22 198.90 401.60 C197.68 399.98 196.22 398.57 195.50 396.80 C194.78 395.03 194.43 392.93 194.60 391.00 C194.77 389.07 195.47 387.13 196.50 385.20 C197.53 383.27 199.85 381.48 200.80 379.40 C201.75 377.32 201.85 374.60 202.20 372.70 C202.55 370.80 202.72 369.78 202.90 368.00 C203.08 366.22 203.47 364.08 203.30 362.00 C203.13 359.92 202.03 357.43 201.90 355.50 C201.77 353.57 202.30 352.27 202.50 350.40 C202.70 348.53 202.73 346.68 203.10 344.30 C203.47 341.92 204.43 337.47 204.70 336.10 Z" fill="#fff" stroke="#2b3490" stroke-width="1.05" stroke-linejoin="round"/>
<path d="M233.80 342.70 C234.20 344.00 235.72 348.57 236.20 350.50 C236.68 352.43 236.85 352.70 236.70 354.30 C236.55 355.90 234.82 357.85 235.30 360.10 C235.78 362.35 238.40 365.55 239.60 367.80 C240.80 370.05 241.83 371.35 242.50 373.60 C243.17 375.85 243.52 379.05 243.60 381.30 C243.68 383.55 243.55 385.32 243.00 387.10 C242.45 388.88 240.47 390.38 240.30 392.00 C240.13 393.62 242.00 395.20 242.00 396.80 C242.00 398.40 241.42 400.15 240.30 401.60 C239.18 403.05 236.38 403.88 235.30 405.50 C234.22 407.12 234.30 411.30 233.80 411.30 C233.30 411.30 233.38 407.12 232.30 405.50 C231.22 403.88 228.42 403.05 227.30 401.60 C226.18 400.15 225.60 398.40 225.60 396.80 C225.60 395.20 227.47 393.62 227.30 392.00 C227.13 390.38 225.15 388.88 224.60 387.10 C224.05 385.32 223.92 383.55 224.00 381.30 C224.08 379.05 224.43 375.85 225.10 373.60 C225.77 371.35 226.80 370.05 228.00 367.80 C229.20 365.55 231.82 362.35 232.30 360.10 C232.78 357.85 231.05 355.90 230.90 354.30 C230.75 352.70 230.92 352.43 231.40 350.50 C231.88 348.57 233.40 344.00 233.80 342.70 Z" fill="#fff" stroke="#c0202e" stroke-width="1.05" stroke-linejoin="round"/>
<path d="M263.40 345.60 C263.88 346.42 265.17 348.88 266.30 350.50 C267.43 352.12 269.40 353.70 270.20 355.30 C271.00 356.90 270.68 358.33 271.10 360.10 C271.52 361.87 272.32 363.97 272.70 365.90 C273.08 367.83 273.73 369.77 273.40 371.70 C273.07 373.63 271.72 375.25 270.70 377.50 C269.68 379.75 268.13 382.62 267.30 385.20 C266.47 387.78 266.35 390.90 265.70 393.00 C265.05 395.10 264.17 397.80 263.40 397.80 C262.63 397.80 261.75 395.10 261.10 393.00 C260.45 390.90 260.33 387.78 259.50 385.20 C258.67 382.62 257.12 379.75 256.10 377.50 C255.08 375.25 253.73 373.63 253.40 371.70 C253.07 369.77 253.72 367.83 254.10 365.90 C254.48 363.97 255.28 361.87 255.70 360.10 C256.12 358.33 255.80 356.90 256.60 355.30 C257.40 353.70 259.37 352.12 260.50 350.50 C261.63 348.88 262.92 346.42 263.40 345.60 Z" fill="#fff" stroke="#111" stroke-width="1.05" stroke-linejoin="round"/>
<path d="M204.50 353.72 L206.68 355.90 L204.50 358.08 L202.32 355.90 Z" fill="#2b3490"/>
<path d="M204.50 370.52 L206.68 372.70 L204.50 374.88 L202.32 372.70 Z" fill="#2b3490"/>
<circle cx="204.50" cy="384.80" r="1.84" fill="#2b3490"/>
<rect x="199.93" y="390.83" width="3.34" height="3.34" fill="#2b3490"/>
<rect x="199.93" y="393.13" width="3.34" height="3.34" fill="#2b3490"/>
<rect x="202.33" y="392.33" width="3.34" height="3.34" fill="#2b3490"/>
<rect x="204.73" y="392.83" width="3.34" height="3.34" fill="#2b3490"/>
<rect x="206.93" y="392.83" width="3.34" height="3.34" fill="#2b3490"/>
<line x1="194.70" y1="393.90" x2="214.70" y2="393.90" stroke="#555" stroke-width="0.6" stroke-dasharray="1.2,0.9" opacity="0.7"/>
<rect x="232.51" y="352.81" width="2.98" height="2.98" fill="#c0202e"/>
<rect x="233.31" y="371.21" width="2.98" height="2.98" fill="#c0202e"/>
<rect x="230.01" y="375.01" width="2.98" height="2.98" fill="#c0202e"/>
<rect x="234.81" y="376.01" width="2.98" height="2.98" fill="#c0202e"/>
<rect x="231.01" y="379.51" width="2.98" height="2.98" fill="#c0202e"/>
<rect x="234.51" y="380.81" width="2.98" height="2.98" fill="#c0202e"/>
<rect x="229.51" y="382.71" width="2.98" height="2.98" fill="#c0202e"/>
<rect x="232.51" y="382.71" width="2.98" height="2.98" fill="#c0202e"/>
<rect x="235.81" y="383.31" width="2.98" height="2.98" fill="#c0202e"/>
<rect x="232.91" y="386.51" width="2.98" height="2.98" fill="#c0202e"/>
<rect x="233.81" y="389.51" width="2.98" height="2.98" fill="#c0202e"/>
<rect x="230.01" y="393.51" width="2.98" height="2.98" fill="#c0202e"/>
<rect x="228.11" y="395.31" width="2.98" height="2.98" fill="#c0202e"/>
<rect x="231.01" y="396.31" width="2.98" height="2.98" fill="#c0202e"/>
<rect x="235.81" y="395.91" width="2.98" height="2.98" fill="#c0202e"/>
<rect x="233.31" y="396.31" width="2.98" height="2.98" fill="#c0202e"/>
<line x1="225.80" y1="378.50" x2="241.80" y2="378.50" stroke="#c0202e" stroke-width="0.6" stroke-dasharray="1.2,0.9" opacity="0.5"/>
<line x1="224.30" y1="384.80" x2="243.30" y2="384.80" stroke="#555" stroke-width="0.6" stroke-dasharray="1.2,0.9" opacity="0.7"/>
<circle cx="261.50" cy="356.20" r="1.49" fill="#111"/>
<circle cx="264.40" cy="356.20" r="1.49" fill="#111"/>
<circle cx="260.50" cy="359.00" r="1.49" fill="#111"/>
<circle cx="264.00" cy="359.00" r="1.49" fill="#111"/>
<circle cx="262.00" cy="366.30" r="1.49" fill="#111"/>
<circle cx="263.40" cy="366.90" r="1.49" fill="#111"/>
<circle cx="261.80" cy="369.80" r="1.49" fill="#111"/>
<circle cx="265.00" cy="369.80" r="1.49" fill="#111"/>
<circle cx="258.60" cy="369.80" r="1.49" fill="#111"/>
<circle cx="265.30" cy="371.70" r="1.49" fill="#111"/>
<circle cx="262.40" cy="375.60" r="1.49" fill="#111"/>
<circle cx="261.80" cy="379.00" r="1.49" fill="#111"/>
<circle cx="263.80" cy="380.40" r="1.49" fill="#111"/>
<circle cx="263.00" cy="383.30" r="1.49" fill="#111"/>
<circle cx="263.80" cy="386.20" r="1.49" fill="#111"/>
<line x1="255.40" y1="360.00" x2="271.40" y2="360.00" stroke="#555" stroke-width="0.6" stroke-dasharray="1.2,0.9" opacity="0.6"/>
<line x1="253.40" y1="369.80" x2="273.40" y2="369.80" stroke="#555" stroke-width="0.6" stroke-dasharray="1.2,0.9" opacity="0.6"/>
<line x1="255.40" y1="378.50" x2="271.40" y2="378.50" stroke="#555" stroke-width="0.6" stroke-dasharray="1.2,0.9" opacity="0.6"/>
<line x1="204.50" y1="324.90" x2="263.40" y2="324.90" stroke="#444" stroke-width="1.1" />
<text x="233.50" y="322.70" font-size="6.6" text-anchor="middle" fill="#333" color="#333" font-weight="normal" >ns</text>
<line x1="204.50" y1="336.50" x2="234.00" y2="336.50" stroke="#444" stroke-width="1.1" />
<text x="218.00" y="334.40" font-size="6.6" text-anchor="middle" fill="#333" color="#333" font-weight="normal" >ns</text>
<line x1="234.00" y1="342.00" x2="263.40" y2="342.00" stroke="#444" stroke-width="1.1" />
<text x="248.50" y="341.30" font-size="7" text-anchor="middle" fill="#333" color="#333" font-weight="normal" >**</text>
<text x="202.70" y="426.70" font-size="6.6" text-anchor="middle" fill="#333" color="#333" font-weight="normal" >Hu-NSG</text>
<text x="233.80" y="426.70" font-size="6.6" text-anchor="middle" fill="#333" color="#333" font-weight="normal" >Hu-NSG-</text>
<text x="233.80" y="435.30" font-size="6.6" text-anchor="middle" fill="#333" color="#333" font-weight="normal" >Tg(IL-15)</text>
<text x="263.40" y="426.70" font-size="6.6" text-anchor="middle" fill="#333" color="#333" font-weight="normal" >Human</text>
<line x1="313.30" y1="412.90" x2="313.30" y2="322.20" stroke="#333" stroke-width="1.2" />
<line x1="310.30" y1="412.90" x2="313.30" y2="412.90" stroke="#333" stroke-width="1.2" />
<text x="308.30" y="415.20" font-size="6.4" text-anchor="end" fill="#2a2a2a" color="#2a2a2a" font-weight="normal" >0</text>
<line x1="310.30" y1="367.55" x2="313.30" y2="367.55" stroke="#333" stroke-width="1.2" />
<text x="308.30" y="369.85" font-size="6.4" text-anchor="end" fill="#2a2a2a" color="#2a2a2a" font-weight="normal" >20</text>
<line x1="310.30" y1="322.20" x2="313.30" y2="322.20" stroke="#333" stroke-width="1.2" />
<text x="308.30" y="324.50" font-size="6.4" text-anchor="end" fill="#2a2a2a" color="#2a2a2a" font-weight="normal" >40</text>
<line x1="311.50" y1="390.22" x2="313.30" y2="390.22" stroke="#333" stroke-width="1.2" />
<line x1="311.50" y1="344.88" x2="313.30" y2="344.88" stroke="#333" stroke-width="1.2" />
<line x1="310.00" y1="412.90" x2="410.00" y2="412.90" stroke="#333" stroke-width="1.1" />
<text x="363.40" y="303.40" font-size="8.6" text-anchor="middle" fill="#1a1a1a" color="#1a1a1a" font-weight="normal" >NK Cells</text>
<text transform="translate(296.9,366.5) rotate(-90) scale(0.915,1)" font-size="8.3" text-anchor="middle" fill="#2a2a2a" color="#2a2a2a" letter-spacing="0"><tspan dy="0.00">%CD3</tspan><tspan font-size="4.98" dy="-3.15">-</tspan><tspan dy="3.15">CD56</tspan><tspan font-size="4.98" dy="-3.15">+</tspan><tspan dy="3.15"> of Total hCD45</tspan><tspan font-size="4.98" dy="-3.15">+</tspan></text>
<line x1="333.30" y1="412.90" x2="333.30" y2="416.10" stroke="#333" stroke-width="0.8" />
<line x1="363.45" y1="412.90" x2="363.45" y2="416.10" stroke="#333" stroke-width="0.8" />
<line x1="393.50" y1="412.90" x2="393.50" y2="416.10" stroke="#333" stroke-width="0.8" />
<path d="M322.5 411 Q324 408.8 333.3 408.8 Q343 408.8 344.3 411 Q343 413.6 333.3 413.6 Q324 413.6 322.5 411 Z" fill="#2b3490"/>
<circle cx="324.00" cy="410.70" r="1.84" fill="#2b3490"/>
<circle cx="327.50" cy="410.70" r="1.84" fill="#2b3490"/>
<circle cx="331.00" cy="410.70" r="1.84" fill="#2b3490"/>
<circle cx="334.50" cy="410.70" r="1.84" fill="#2b3490"/>
<circle cx="338.00" cy="410.70" r="1.84" fill="#2b3490"/>
<circle cx="341.50" cy="410.70" r="1.84" fill="#2b3490"/>
<path d="M363.65 362.40 C363.78 363.13 364.20 365.57 364.45 366.80 C364.70 368.03 364.95 368.70 365.15 369.80 C365.35 370.90 365.63 372.18 365.65 373.40 C365.67 374.62 365.20 375.62 365.25 377.10 C365.30 378.58 365.38 380.82 365.95 382.30 C366.52 383.78 367.45 384.65 368.65 386.00 C369.85 387.35 372.48 388.80 373.15 390.40 C373.82 392.00 372.57 394.12 372.65 395.60 C372.73 397.08 374.08 397.95 373.65 399.30 C373.22 400.65 371.33 402.35 370.05 403.70 C368.77 405.05 367.05 406.29 365.95 407.40 C364.85 408.51 364.28 410.35 363.45 410.35 C362.62 410.35 362.05 408.51 360.95 407.40 C359.85 406.29 358.13 405.05 356.85 403.70 C355.57 402.35 353.68 400.65 353.25 399.30 C352.82 397.95 354.17 397.08 354.25 395.60 C354.33 394.12 353.08 392.00 353.75 390.40 C354.42 388.80 357.05 387.35 358.25 386.00 C359.45 384.65 360.38 383.78 360.95 382.30 C361.52 380.82 361.60 378.58 361.65 377.10 C361.70 375.62 361.23 374.62 361.25 373.40 C361.27 372.18 361.55 370.90 361.75 369.80 C361.95 368.70 362.20 368.03 362.45 366.80 C362.70 365.57 363.12 363.13 363.25 362.40 Z" fill="#fff" stroke="#c0202e" stroke-width="1.05" stroke-linejoin="round"/>
<rect x="361.96" y="367.51" width="2.98" height="2.98" fill="#c0202e"/>
<rect x="361.96" y="371.91" width="2.98" height="2.98" fill="#c0202e"/>
<rect x="361.96" y="375.51" width="2.98" height="2.98" fill="#c0202e"/>
<rect x="357.51" y="387.51" width="2.98" height="2.98" fill="#c0202e"/>
<rect x="360.51" y="387.51" width="2.98" height="2.98" fill="#c0202e"/>
<rect x="363.51" y="387.51" width="2.98" height="2.98" fill="#c0202e"/>
<rect x="366.51" y="387.51" width="2.98" height="2.98" fill="#c0202e"/>
<rect x="356.01" y="389.71" width="2.98" height="2.98" fill="#c0202e"/>
<rect x="358.31" y="389.71" width="2.98" height="2.98" fill="#c0202e"/>
<rect x="364.91" y="389.71" width="2.98" height="2.98" fill="#c0202e"/>
<rect x="367.91" y="389.71" width="2.98" height="2.98" fill="#c0202e"/>
<rect x="361.21" y="393.41" width="2.98" height="2.98" fill="#c0202e"/>
<rect x="364.21" y="393.41" width="2.98" height="2.98" fill="#c0202e"/>
<rect x="359.01" y="396.31" width="2.98" height="2.98" fill="#c0202e"/>
<rect x="361.21" y="396.31" width="2.98" height="2.98" fill="#c0202e"/>
<rect x="364.21" y="396.31" width="2.98" height="2.98" fill="#c0202e"/>
<rect x="367.11" y="396.31" width="2.98" height="2.98" fill="#c0202e"/>
<rect x="356.01" y="398.51" width="2.98" height="2.98" fill="#c0202e"/>
<rect x="361.21" y="398.51" width="2.98" height="2.98" fill="#c0202e"/>
<rect x="365.61" y="398.51" width="2.98" height="2.98" fill="#c0202e"/>
<rect x="368.11" y="398.51" width="2.98" height="2.98" fill="#c0202e"/>
<rect x="361.96" y="401.51" width="2.98" height="2.98" fill="#c0202e"/>
<line x1="354.45" y1="393.50" x2="372.45" y2="393.50" stroke="#555" stroke-width="0.6" stroke-dasharray="1.2,0.9" opacity="0.5"/>
<path d="M393.70 373.75 C393.77 374.27 393.35 376.07 394.10 376.90 C394.85 377.73 397.32 377.92 398.20 378.75 C399.08 379.58 399.10 380.76 399.40 381.90 C399.70 383.04 399.37 384.25 400.00 385.60 C400.63 386.95 402.65 388.75 403.20 390.00 C403.75 391.25 403.62 391.85 403.30 393.10 C402.98 394.35 401.73 395.93 401.30 397.50 C400.87 399.07 400.60 400.93 400.70 402.50 C400.80 404.07 402.27 405.65 401.90 406.90 C401.53 408.15 399.65 409.10 398.50 410.00 C397.35 410.90 395.83 411.78 395.00 412.30 C394.17 412.82 394.00 413.10 393.50 413.10 C393.00 413.10 392.83 412.82 392.00 412.30 C391.17 411.78 389.65 410.90 388.50 410.00 C387.35 409.10 385.47 408.15 385.10 406.90 C384.73 405.65 386.20 404.07 386.30 402.50 C386.40 400.93 386.13 399.07 385.70 397.50 C385.27 395.93 384.02 394.35 383.70 393.10 C383.38 391.85 383.25 391.25 383.80 390.00 C384.35 388.75 386.37 386.95 387.00 385.60 C387.63 384.25 387.30 383.04 387.60 381.90 C387.90 380.76 387.92 379.58 388.80 378.75 C389.68 377.92 392.15 377.73 392.90 376.90 C393.65 376.07 393.23 374.27 393.30 373.75 Z" fill="#fff" stroke="#111" stroke-width="1.05" stroke-linejoin="round"/>
<circle cx="391.25" cy="383.50" r="1.72" fill="#111"/>
<circle cx="395.00" cy="383.50" r="1.72" fill="#111"/>
<circle cx="393.50" cy="389.40" r="1.72" fill="#111"/>
<circle cx="393.50" cy="391.90" r="1.72" fill="#111"/>
<circle cx="393.50" cy="394.40" r="1.72" fill="#111"/>
<circle cx="393.50" cy="398.10" r="1.72" fill="#111"/>
<circle cx="393.50" cy="401.90" r="1.72" fill="#111"/>
<circle cx="393.50" cy="405.00" r="1.72" fill="#111"/>
<circle cx="396.90" cy="390.60" r="1.72" fill="#111"/>
<circle cx="397.25" cy="396.25" r="1.72" fill="#111"/>
<circle cx="389.40" cy="406.90" r="1.72" fill="#111"/>
<circle cx="397.25" cy="406.25" r="1.72" fill="#111"/>
<line x1="384.50" y1="389.50" x2="402.50" y2="389.50" stroke="#777" stroke-width="0.6" stroke-dasharray="1.2,0.9" opacity="0.5"/>
<line x1="383.50" y1="396.00" x2="403.50" y2="396.00" stroke="#555" stroke-width="0.6" stroke-dasharray="1.2,0.9" opacity="0.6"/>
<line x1="333.40" y1="332.10" x2="393.20" y2="332.10" stroke="#444" stroke-width="1.1" />
<text x="363.00" y="330.20" font-size="7" text-anchor="middle" fill="#333" color="#333" font-weight="normal" >***</text>
<line x1="333.50" y1="351.40" x2="361.50" y2="351.40" stroke="#444" stroke-width="1.1" />
<text x="346.50" y="349.50" font-size="7" text-anchor="middle" fill="#333" color="#333" font-weight="normal" >****</text>
<line x1="365.40" y1="351.40" x2="393.40" y2="351.40" stroke="#444" stroke-width="1.1" />
<text x="379.10" y="347.00" font-size="6.6" text-anchor="middle" fill="#333" color="#333" font-weight="normal" >ns</text>
<text x="333.80" y="423.60" font-size="6.6" text-anchor="middle" fill="#333" color="#333" font-weight="normal" >Hu-NSG</text>
<text x="363.45" y="423.60" font-size="6.6" text-anchor="middle" fill="#333" color="#333" font-weight="normal" >Hu-NSG-</text>
<text x="363.45" y="432.20" font-size="6.6" text-anchor="middle" fill="#333" color="#333" font-weight="normal" >Tg(IL-15)</text>
<text x="393.50" y="423.60" font-size="6.6" text-anchor="middle" fill="#333" color="#333" font-weight="normal" >Human</text>
<line x1="444.40" y1="414.20" x2="444.40" y2="323.50" stroke="#333" stroke-width="1.2" />
<line x1="441.40" y1="414.20" x2="444.40" y2="414.20" stroke="#333" stroke-width="1.2" />
<text x="439.40" y="416.50" font-size="6.4" text-anchor="end" fill="#2a2a2a" color="#2a2a2a" font-weight="normal" >0</text>
<line x1="441.40" y1="368.85" x2="444.40" y2="368.85" stroke="#333" stroke-width="1.2" />
<text x="439.40" y="371.15" font-size="6.4" text-anchor="end" fill="#2a2a2a" color="#2a2a2a" font-weight="normal" >20</text>
<line x1="441.40" y1="323.50" x2="444.40" y2="323.50" stroke="#333" stroke-width="1.2" />
<text x="439.40" y="325.80" font-size="6.4" text-anchor="end" fill="#2a2a2a" color="#2a2a2a" font-weight="normal" >40</text>
<line x1="442.60" y1="391.52" x2="444.40" y2="391.52" stroke="#333" stroke-width="1.2" />
<line x1="442.60" y1="346.18" x2="444.40" y2="346.18" stroke="#333" stroke-width="1.2" />
<line x1="441.00" y1="414.20" x2="544.00" y2="414.20" stroke="#333" stroke-width="1.1" />
<text x="493.70" y="303.50" font-size="8.7" text-anchor="middle" fill="#1a1a1a" color="#1a1a1a" font-weight="normal" >NK T Cells</text>
<text transform="translate(427.6,368.7) rotate(-90) scale(0.915,1)" font-size="8.3" text-anchor="middle" fill="#2a2a2a" color="#2a2a2a" letter-spacing="0"><tspan dy="0.00">%CD3</tspan><tspan font-size="4.98" dy="-3.15">+</tspan><tspan dy="3.15">CD56</tspan><tspan font-size="4.98" dy="-3.15">+</tspan><tspan dy="3.15"> of Total hCD45</tspan><tspan font-size="4.98" dy="-3.15">+</tspan></text>
<line x1="464.30" y1="414.20" x2="464.30" y2="417.40" stroke="#333" stroke-width="0.8" />
<line x1="494.20" y1="414.20" x2="494.20" y2="417.40" stroke="#333" stroke-width="0.8" />
<line x1="523.90" y1="414.20" x2="523.90" y2="417.40" stroke="#333" stroke-width="0.8" />
<path d="M453.8 413.2 Q455 411.2 464 411.2 Q473.5 411.2 474.5 413.2 Q473.5 415.2 464 415.2 Q455 415.2 453.8 413.2 Z" fill="#2b3490"/>
<circle cx="455.50" cy="413.00" r="1.84" fill="#2b3490"/>
<circle cx="459.00" cy="413.00" r="1.84" fill="#2b3490"/>
<circle cx="462.50" cy="413.00" r="1.84" fill="#2b3490"/>
<circle cx="466.00" cy="413.00" r="1.84" fill="#2b3490"/>
<circle cx="469.50" cy="413.00" r="1.84" fill="#2b3490"/>
<circle cx="473.00" cy="413.00" r="1.84" fill="#2b3490"/>
<path d="M494.20 398.20 C494.40 398.67 495.13 399.87 495.40 401.00 C495.67 402.13 495.58 403.83 495.80 405.00 C496.02 406.17 495.38 407.17 496.70 408.00 C498.02 408.83 502.37 409.25 503.70 410.00 C505.03 410.75 506.28 411.78 504.70 412.50 C503.12 413.22 497.70 414.30 494.20 414.30 C490.70 414.30 485.28 413.22 483.70 412.50 C482.12 411.78 483.37 410.75 484.70 410.00 C486.03 409.25 490.38 408.83 491.70 408.00 C493.02 407.17 492.38 406.17 492.60 405.00 C492.82 403.83 492.73 402.13 493.00 401.00 C493.27 399.87 494.00 398.67 494.20 398.20 Z" fill="#fff" stroke="#c0202e" stroke-width="1.05" stroke-linejoin="round"/>
<path d="M492.48 401.88 L495.92 401.88 L494.20 398.78 Z" fill="#c0202e"/>
<path d="M492.48 404.38 L495.92 404.38 L494.20 401.28 Z" fill="#c0202e"/>
<path d="M492.48 406.88 L495.92 406.88 L494.20 403.78 Z" fill="#c0202e"/>
<path d="M490.78 409.38 L494.22 409.38 L492.50 406.28 Z" fill="#c0202e"/>
<path d="M494.28 409.38 L497.72 409.38 L496.00 406.28 Z" fill="#c0202e"/>
<rect x="484.39" y="409.89" width="3.22" height="3.22" fill="#c0202e"/>
<rect x="487.39" y="409.39" width="3.22" height="3.22" fill="#c0202e"/>
<rect x="490.39" y="409.89" width="3.22" height="3.22" fill="#c0202e"/>
<rect x="493.39" y="409.39" width="3.22" height="3.22" fill="#c0202e"/>
<rect x="496.39" y="409.89" width="3.22" height="3.22" fill="#c0202e"/>
<rect x="499.39" y="409.89" width="3.22" height="3.22" fill="#c0202e"/>
<rect x="501.39" y="409.39" width="3.22" height="3.22" fill="#c0202e"/>
<path d="M524.10 381.60 C524.18 382.50 524.27 385.77 524.60 387.00 C524.93 388.23 525.78 388.33 526.10 389.00 C526.42 389.67 526.57 390.33 526.50 391.00 C526.43 391.67 525.87 392.33 525.70 393.00 C525.53 393.67 525.38 394.08 525.50 395.00 C525.62 395.92 525.95 397.23 526.40 398.50 C526.85 399.77 527.48 401.23 528.20 402.60 C528.92 403.97 529.88 405.55 530.70 406.70 C531.52 407.85 532.60 408.70 533.10 409.50 C533.60 410.30 533.82 410.92 533.70 411.50 C533.58 412.08 534.03 412.55 532.40 413.00 C530.77 413.45 526.73 414.20 523.90 414.20 C521.07 414.20 517.03 413.45 515.40 413.00 C513.77 412.55 514.22 412.08 514.10 411.50 C513.98 410.92 514.20 410.30 514.70 409.50 C515.20 408.70 516.28 407.85 517.10 406.70 C517.92 405.55 518.88 403.97 519.60 402.60 C520.32 401.23 520.95 399.77 521.40 398.50 C521.85 397.23 522.18 395.92 522.30 395.00 C522.42 394.08 522.27 393.67 522.10 393.00 C521.93 392.33 521.37 391.67 521.30 391.00 C521.23 390.33 521.38 389.67 521.70 389.00 C522.02 388.33 522.87 388.23 523.20 387.00 C523.53 385.77 523.62 382.50 523.70 381.60 Z" fill="#fff" stroke="#111" stroke-width="1.05" stroke-linejoin="round"/>
<circle cx="523.90" cy="388.80" r="1.55" fill="#111"/>
<circle cx="523.90" cy="390.60" r="1.55" fill="#111"/>
<circle cx="523.90" cy="398.00" r="1.55" fill="#111"/>
<circle cx="523.90" cy="400.60" r="1.55" fill="#111"/>
<circle cx="523.40" cy="404.70" r="1.55" fill="#111"/>
<circle cx="521.90" cy="407.70" r="1.55" fill="#111"/>
<circle cx="526.00" cy="407.20" r="1.55" fill="#111"/>
<circle cx="518.30" cy="411.30" r="1.55" fill="#111"/>
<circle cx="521.40" cy="411.80" r="1.55" fill="#111"/>
<circle cx="526.00" cy="410.80" r="1.55" fill="#111"/>
<circle cx="529.50" cy="411.80" r="1.55" fill="#111"/>
<circle cx="523.90" cy="412.00" r="1.55" fill="#111"/>
<line x1="464.50" y1="351.30" x2="524.20" y2="351.30" stroke="#444" stroke-width="1.1" />
<text x="493.10" y="347.20" font-size="7" text-anchor="middle" fill="#333" color="#333" font-weight="normal" >*</text>
<line x1="464.50" y1="370.90" x2="492.20" y2="370.90" stroke="#444" stroke-width="1.1" />
<text x="477.80" y="366.40" font-size="6.6" text-anchor="middle" fill="#333" color="#333" font-weight="normal" >ns</text>
<line x1="496.40" y1="370.90" x2="524.20" y2="370.90" stroke="#444" stroke-width="1.1" />
<text x="509.00" y="366.40" font-size="6.6" text-anchor="middle" fill="#333" color="#333" font-weight="normal" >ns</text>
<text x="464.50" y="425.70" font-size="6.6" text-anchor="middle" fill="#333" color="#333" font-weight="normal" >Hu-NSG</text>
<text x="494.20" y="425.70" font-size="6.6" text-anchor="middle" fill="#333" color="#333" font-weight="normal" >Hu-NSG-</text>
<text x="494.20" y="434.30" font-size="6.6" text-anchor="middle" fill="#333" color="#333" font-weight="normal" >Tg(IL-15)</text>
<text x="523.90" y="425.70" font-size="6.6" text-anchor="middle" fill="#333" color="#333" font-weight="normal" >Human</text>
</svg></body></html>
